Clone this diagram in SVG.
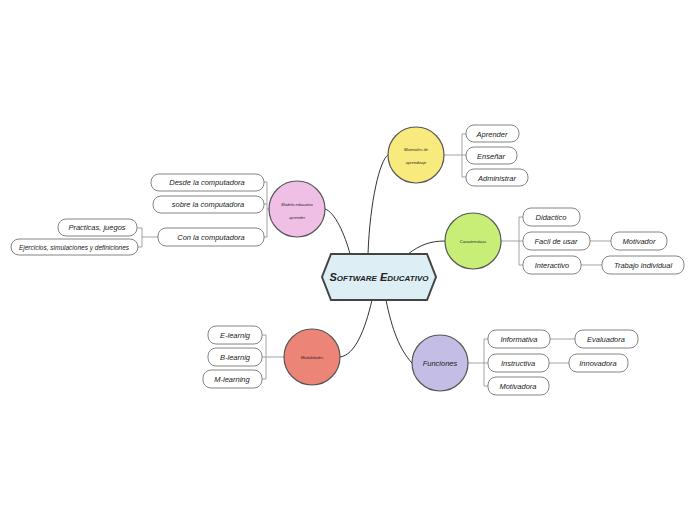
<svg xmlns="http://www.w3.org/2000/svg" width="696" height="520" viewBox="0 0 696 520">
<style>
text{font-family:"Liberation Sans",sans-serif;font-style:italic;fill:#222;text-anchor:middle;dominant-baseline:central}
.p{fill:#fff;stroke:#777;stroke-width:0.9}
.t{font-size:7.5px}
.s{font-size:4px}
.c{stroke:#555;stroke-width:1.2}
.l{fill:none;stroke:#333;stroke-width:1}
.b{fill:none;stroke:#999;stroke-width:0.9}
</style>
<rect width="696" height="520" fill="#fff"/>
<g id="connectors">
<path class="l" d="M368 254 C370 200 380 160 388 155"/>
<path class="l" d="M350 254 C345 235 335 212 325 209"/>
<path class="l" d="M408 254 C420 245 430 241 445 241"/>
<path class="l" d="M386 300 C392 330 400 350 412 363"/>
<path class="l" d="M372 300 C365 330 355 355 340 357"/>
<path class="b" d="M444 155 H462 M462 134 V177 M462 134 H466 M462 155 H466 M462 177 H466"/>
<path class="b" d="M501 241 H519 M519 217 V265 M519 217 H523 M519 241 H523 M519 265 H523 M590 241 H611 M581 265 H602"/>
<path class="b" d="M468 363 H484 M484 339 V386 M484 339 H488 M484 363 H488 M484 386 H488 M550 339 H575 M549 363 H569"/>
<path class="b" d="M284 357 H266 M266 335 V379 M266 335 H262 M266 357 H262 M266 379 H262"/>
<path class="b" d="M269 209 H267 M267 182 V237 M267 182 H264 M267 204 H264 M267 237 H264"/>
<path class="b" d="M158 237 H142 M142 228 V247 M142 228 H137 M142 247 H138"/>
</g>
<g id="central"><polygon points="331,254 427,254 436,277 427,300 331,300 322,277" fill="#deeef5" stroke="#444" stroke-width="2"/><text x="379" y="277" font-size="11" font-style="normal" font-variant="small-caps" font-weight="bold">Software Educativo</text></g>
<g id="materiales"><circle class="c" cx="416" cy="155" r="28" fill="#f8ea7c"/><text class="s" x="416" y="149">Materiales de</text><text class="s" x="416" y="162">aprendizaje</text></g>
<g id="modelo"><circle class="c" cx="297" cy="209" r="28" fill="#f0bfe5"/><text class="s" x="297" y="204">Modelo educativo</text><text class="s" x="297" y="217">aprender</text></g>
<g id="caract"><circle class="c" cx="473" cy="241" r="28" fill="#c8ee77"/><text class="s" x="473" y="241">Caracteristicas</text></g>
<g id="funciones"><circle class="c" cx="440" cy="363" r="28" fill="#c4bde5"/><text class="t" x="440" y="363">Funciones</text></g>
<g id="modalidades"><circle class="c" cx="312" cy="357" r="28" fill="#ec8578"/><text class="s" x="312" y="357">Modalidades</text></g>
<g id="aprender"><rect class="p" x="466" y="125" width="53" height="17" rx="8"/><text class="t" x="492" y="134">Aprender</text></g>
<g id="ensenar"><rect class="p" x="466" y="147" width="51" height="17" rx="8"/><text class="t" x="491" y="156">Enseñar</text></g>
<g id="administrar"><rect class="p" x="466" y="169" width="62" height="17" rx="8"/><text class="t" x="497" y="178">Administrar</text></g>
<g id="didactico"><rect class="p" x="523" y="208" width="57" height="18" rx="8"/><text class="t" x="551" y="217">Didactico</text></g>
<g id="facil"><rect class="p" x="523" y="232" width="67" height="18" rx="8"/><text class="t" x="556" y="241">Facil de usar</text></g>
<g id="motivador"><rect class="p" x="611" y="232" width="56" height="18" rx="8"/><text class="t" x="639" y="241">Motivador</text></g>
<g id="interactivo"><rect class="p" x="523" y="256" width="58" height="18" rx="8"/><text class="t" x="552" y="265">Interactivo</text></g>
<g id="trabajo"><rect class="p" x="602" y="256" width="82" height="18" rx="8"/><text class="t" x="643" y="265">Trabajo individual</text></g>
<g id="informativa"><rect class="p" x="488" y="330" width="62" height="18" rx="8"/><text class="t" x="519" y="339">Informativa</text></g>
<g id="evaluadora"><rect class="p" x="575" y="330" width="63" height="18" rx="8"/><text class="t" x="606" y="339">Evaluadora</text></g>
<g id="instructiva"><rect class="p" x="488" y="354" width="61" height="18" rx="8"/><text class="t" x="518" y="363">Instructiva</text></g>
<g id="innovadora"><rect class="p" x="569" y="354" width="59" height="18" rx="8"/><text class="t" x="598" y="363">Innovadora</text></g>
<g id="motivadora"><rect class="p" x="488" y="377" width="61" height="18" rx="8"/><text class="t" x="518" y="386">Motivadora</text></g>
<g id="elearnig"><rect class="p" x="208" y="326" width="54" height="18" rx="8"/><text class="t" x="235" y="335">E-learnig</text></g>
<g id="blearnig"><rect class="p" x="208" y="348" width="54" height="18" rx="8"/><text class="t" x="235" y="357">B-learnig</text></g>
<g id="mlearning"><rect class="p" x="203" y="370" width="59" height="18" rx="8"/><text class="t" x="232" y="379">M-learning</text></g>
<g id="desde"><rect class="p" x="151" y="174" width="113" height="17" rx="8"/><text class="t" x="207" y="182">Desde la computadora</text></g>
<g id="sobre"><rect class="p" x="153" y="196" width="111" height="17" rx="8"/><text class="t" x="208" y="204">sobre la computadora</text></g>
<g id="con"><rect class="p" x="158" y="228" width="106" height="18" rx="8"/><text class="t" x="211" y="237">Con la computadora</text></g>
<g id="practicas"><rect class="p" x="58" y="219" width="79" height="17" rx="8"/><text class="t" x="97" y="227">Practicas, juegos</text></g>
<g id="ejercicios"><rect class="p" x="11" y="239" width="127" height="16" rx="8"/><text x="74" y="247" font-size="6.5px">Ejercicios, simulaciones y definiciones</text></g>
</svg>
